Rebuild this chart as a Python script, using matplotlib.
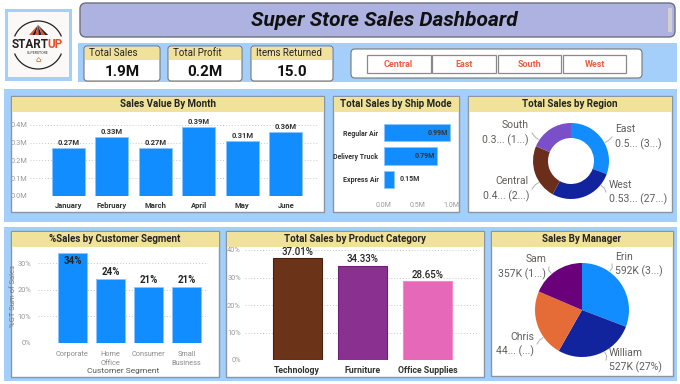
import numpy as np
import matplotlib
matplotlib.use("Agg")
import matplotlib.pyplot as plt
from matplotlib.patches import Rectangle, FancyBboxPatch, Arc, Polygon

plt.rcParams['font.family'] = ['Roboto', 'DejaVu Sans']

# ---- data ----
kpi_names = ['Total Sales', 'Total Profit', 'Items Returned']
kpi_values = ['1.9M', '0.2M', '15.0']
regions_slicer = ['Central', 'East', 'South', 'West']

months = ['January', 'February', 'March', 'April', 'May', 'June']
month_sales = [0.27, 0.33, 0.27, 0.39, 0.31, 0.36]

ship_modes = ['Regular Air', 'Delivery Truck', 'Express Air']
ship_sales = [0.99, 0.79, 0.15]

regions = ['East', 'West', 'Central', 'South']
region_sales = [0.59, 0.53, 0.45, 0.36]
region_labels = ['0.5... (3...)', '0.53... (27...)', '0.4... (2...)', '0.3... (1...)']

segments = ['Corporate', 'Home\nOffice', 'Consumer', 'Small\nBusiness']
segment_pct = [34, 24, 21, 21]

categories = ['Technology', 'Furniture', 'Office Supplies']
category_pct = [37.01, 34.33, 28.65]

managers = ['Erin', 'William', 'Chris', 'Sam']
manager_sales = [592, 527, 446, 357]
manager_labels = ['592K (3...)', '527K (27%)', '44... (...)', '357K (1...)']

# ---- style ----
W, H = 680, 384
BLUE = '#118dff'
LIGHT = '#a3cffa'
YELLOW = '#f0e19b'
BORDER = '#8a96a3'
GREY_TXT = '#605e5c'
DARK = '#252423'

fig = plt.figure(figsize=(W / 100, H / 100), dpi=100)
fig.patch.set_facecolor('white')


def px(x, y, w, h):
    return [x / W, 1 - (y + h) / H, w / W, h / H]


bg = fig.add_axes([0, 0, 1, 1])
bg.set_xlim(0, W)
bg.set_ylim(H, 0)
bg.axis('off')
bg.set_zorder(0)


def rect(x, y, w, h, fc, ec='none', lw=0.8, z=1):
    bg.add_patch(Rectangle((x, y), w, h, fc=fc, ec=ec, lw=lw, zorder=z))


def panel(x, y, w, h, title, hh=15):
    rect(x, y, w, h, 'white', BORDER, 1.0, 2)
    rect(x + 0.5, y + 0.5, w - 1, hh, YELLOW, 'none', 0, 3)
    bg.text(x + w / 2, y + hh / 2 + 0.8, title, ha='center', va='center',
            fontsize=7, fontweight='bold', color=DARK, zorder=4)


# ---- logo ----
rect(5, 9, 67, 72, LIGHT, z=1)
rect(8, 12, 61, 65, '#fbf9f7', z=2)
bg.add_patch(Arc((38, 45), 50, 48, theta1=200, theta2=340, color='#222', lw=0.9, zorder=3))
bg.add_patch(Arc((38, 45), 50, 48, theta1=20, theta2=160, color='#222', lw=0.9, zorder=3))
for i in range(6):
    x0 = 29 + i * 3.2
    col = '#e8502a' if i % 2 == 0 else '#222'
    bg.add_patch(Polygon([[38, 25], [x0, 35], [x0 + 3.2, 35]], closed=True, fc=col, ec='none', zorder=3))
bg.text(48.5, 44, 'START', ha='right', va='center', fontsize=8.5, fontweight='bold', color='#222', zorder=4)
bg.text(47.5, 44, 'UP', ha='left', va='center', fontsize=8.5, fontweight='bold', color='#e8502a', zorder=4)
bg.text(38, 52.5, 'SUPERSTORE', ha='center', va='center', fontsize=2.6, color='#333', zorder=4)
bg.text(38, 60, '\u2302', ha='center', va='center', fontsize=6, color='#e8502a', zorder=4)

# ---- title ----
bg.add_patch(FancyBboxPatch((80, 3), 595, 34, boxstyle='round,pad=0,rounding_size=6',
                            fc='#adb2e1', ec='#6f6f7a', lw=1.0, zorder=2))
rect(668, 8, 4, 24, '#d0d0d0', z=3)
bg.text(384, 21, 'Super Store Sales Dashboard', ha='center', va='center', fontsize=15,
        fontweight='bold', fontstyle='italic', color='#111', zorder=4)

# ---- KPI strip ----
rect(78, 43, 599, 39, LIGHT, z=1)
card_x = [84, 168, 251]
card_w = [76, 74, 82]
for cx, cw, name, val in zip(card_x, card_w, kpi_names, kpi_values):
    bg.add_patch(FancyBboxPatch((cx, 46), cw, 35, boxstyle='round,pad=0,rounding_size=3',
                                fc='white', ec='#777', lw=0.8, zorder=2))
    rect(cx + 0.6, 46.6, cw - 1.2, 13.5, YELLOW, z=3)
    bg.text(cx + 5, 53.5, name, ha='left', va='center', fontsize=7, color=DARK, zorder=4)
    bg.text(cx + cw / 2, 71.5, val, ha='center', va='center', fontsize=11,
            fontweight='bold', color='#111', zorder=4)

bg.add_patch(FancyBboxPatch((351, 49), 291, 29, boxstyle='round,pad=0,rounding_size=4',
                            fc='white', ec='#777', lw=0.8, zorder=2))
for i, r in enumerate(regions_slicer):
    bx = 367 + i * 65.3
    rect(bx, 55, 63.5, 18, 'white', '#8a8a8a', 0.9, 3)
    bg.text(bx + 31.75, 64.5, r, ha='center', va='center', fontsize=6.5,
            fontweight='bold', color='#e8603c', zorder=4)

# ---- middle row ----
rect(4, 89, 673, 133, LIGHT, z=1)
panel(11, 96, 313, 116, 'Sales Value By Month')
panel(333, 96, 126, 116, 'Total Sales by Ship Mode')
panel(468, 96, 204, 116, 'Total Sales by Region')

# ---- bottom row ----
rect(4, 227, 673, 154, LIGHT, z=1)
panel(11, 231, 208, 146, '%Sales by Customer Segment')
panel(226, 231, 258, 146, 'Total Sales by Product Category')
panel(491, 231, 182, 145, 'Sales By Manager')


def clean(ax):
    for s in ax.spines.values():
        s.set_visible(False)
    ax.set_facecolor('none')
    ax.set_zorder(5)
    ax.tick_params(length=0)


# Sales value by month
ax = fig.add_axes(px(30, 118, 288, 78))
clean(ax)
xm = np.arange(len(months))
ax.bar(xm, month_sales, width=0.76, color=BLUE, edgecolor='#8cc6ff', lw=0.6, zorder=3)
ax.set_xlim(-0.88, 5.74)
ax.set_ylim(0, 0.439)
ax.set_yticks([0, 0.1, 0.2, 0.3, 0.4])
ax.set_yticklabels([f'{v:.1f}M' for v in [0, 0.1, 0.2, 0.3, 0.4]], fontsize=5.3, color='#9a9a9a')
ax.set_xticks(xm)
ax.set_xticklabels(months, fontsize=5.5, color='#333', fontweight='bold')
ax.tick_params(axis='x', pad=4)
ax.tick_params(axis='y', pad=2)
ax.grid(axis='y', linestyle=(0, (1, 2)), color='#c8c8c8', lw=0.7, zorder=0)
for i, v in enumerate(month_sales):
    ax.text(i, v + 0.012, f'{v:.2f}M', ha='center', va='bottom', fontsize=5.5,
            fontweight='bold', color='#333')

# Ship mode
ax = fig.add_axes(px(384, 121, 67, 70))
clean(ax)
ys = np.arange(len(ship_modes))
ax.barh(ys, ship_sales, height=0.73, color=BLUE, edgecolor='#8cc6ff', lw=0.6)
ax.set_xlim(0, 1.0)
ax.set_ylim(2.5, -0.5)
ax.set_yticks(ys)
ax.set_yticklabels(ship_modes, fontsize=5, fontweight='bold', color='#333')
ax.set_xticks([0, 0.5, 1.0])
ax.set_xticklabels(['0.0M', '0.5M', '1.0M'], fontsize=5, color='#9a9a9a')
ax.tick_params(axis='x', pad=8)
ax.tick_params(axis='y', pad=4)
for i, v in enumerate(ship_sales):
    if v > 0.5:
        ax.text(v - 0.03, i, f'{v:.2f}M', ha='right', va='center', fontsize=5,
                fontweight='bold', color='#333')
    else:
        ax.text(v + 0.08, i, f'{v:.2f}M', ha='left', va='center', fontsize=5,
                fontweight='bold', color='#333')


def pie_chart(cx, cy, r, vals, cols, names, sub, anchors, width=None):
    half = r + 14
    a = fig.add_axes(px(cx - half, cy - half, 2 * half, 2 * half))
    wp = dict(linewidth=0)
    if width:
        wp['width'] = width
    a.pie(vals, radius=r, startangle=90, counterclock=False, colors=cols, wedgeprops=wp)
    a.set_xlim(-half, half)
    a.set_ylim(-half, half)
    a.set_zorder(5)
    for n, s, (lx, ly, side) in zip(names, sub, anchors):
        dx, dy = lx - cx, cy - ly
        d = np.hypot(dx, dy)
        ux, uy = dx / d, dy / d
        ex = dx - (3 if side == 'left' else -3)
        a.plot([ux * (r + 1), ux * (r + 5), ex], [uy * (r + 1), uy * (r + 5), dy],
               color='#b0b0b0', lw=0.7, clip_on=False)
        a.text(dx, dy + 7.5, n, ha=side, va='center', fontsize=7.5, color=GREY_TXT, clip_on=False)
        a.text(dx, dy - 7.5, s, ha=side, va='center', fontsize=7.5, color=GREY_TXT, clip_on=False)


pie_chart(571, 161, 38, region_sales, [BLUE, '#12239e', '#6b2e1a', '#7b4fc8'],
          regions, region_labels,
          [(615, 137, 'left'), (609, 192, 'left'), (529, 189, 'right'), (529, 133, 'right')],
          width=15)

pie_chart(582, 310, 47, manager_sales, [BLUE, '#12239e', '#e66c37', '#6b007b'],
          managers, manager_labels,
          [(615, 264, 'left'), (609, 360, 'left'), (534, 344, 'right'), (546, 267, 'right')])

# Customer segment
ax = fig.add_axes(px(38, 250, 170, 92.7))
clean(ax)
xs = np.arange(len(segments))
ax.bar(xs, segment_pct, width=0.76, color=BLUE, edgecolor='#8cc6ff', lw=0.6, zorder=3)
ax.set_xlim(-0.908, 3.57)
ax.set_ylim(0, 35)
ax.set_yticks([0, 10, 20, 30])
ax.set_yticklabels(['0%', '10%', '20%', '30%'], fontsize=5.3, color='#9a9a9a')
ax.set_xticks(xs)
ax.set_xticklabels(segments, fontsize=5.3, color='#8a8a8a', linespacing=1.3)
ax.tick_params(axis='x', pad=6)
ax.tick_params(axis='y', pad=5)
ax.grid(axis='y', linestyle=(0, (1, 2)), color='#c8c8c8', lw=0.7, zorder=0)
ax.set_ylabel('%GT Sum of Sales', fontsize=5.5, color='#777', labelpad=1)
ax.set_xlabel('Customer Segment', fontsize=6, color='#555', labelpad=1)
for i, v in enumerate(segment_pct):
    if v > 30:
        ax.text(i, v - 1.3, f'{v}%', ha='center', va='top', fontsize=7, fontweight='bold', color=DARK)
    else:
        ax.text(i, v + 0.8, f'{v}%', ha='center', va='bottom', fontsize=7, fontweight='bold', color=DARK)

# Product category
ax = fig.add_axes(px(245, 250, 233, 110))
clean(ax)
xc = np.arange(len(categories))
ax.bar(xc, category_pct, width=0.75, color=['#6b3419', '#8a3091', '#e668b8'],
       edgecolor=['#4a200c', '#6e1f75', '#f08ac8'], lw=0.8, zorder=3)
ax.set_xlim(-0.80, 2.77)
ax.set_ylim(0, 40)
ax.set_yticks([0, 10, 20, 30, 40])
ax.set_yticklabels(['0%', '10%', '20%', '30%', '40%'], fontsize=5.3, color='#9a9a9a')
ax.set_xticks(xc)
ax.set_xticklabels(categories, fontsize=6.3, fontweight='bold', color='#333')
ax.tick_params(axis='x', pad=4)
ax.tick_params(axis='y', pad=3)
ax.grid(axis='y', linestyle=(0, (1, 2)), color='#c8c8c8', lw=0.7, zorder=0)
for i, v in enumerate(category_pct):
    ax.text(i, v + 0.4, f'{v:.2f}%', ha='center', va='bottom', fontsize=7, color=DARK,
            fontweight='medium', clip_on=False)

fig.savefig('out.png', dpi=100)
